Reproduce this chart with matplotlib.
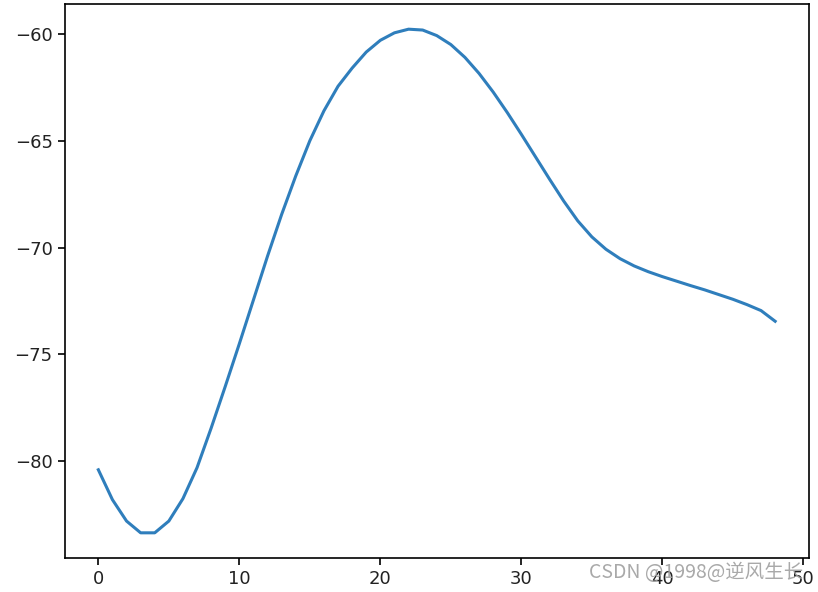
import numpy as np
import matplotlib
matplotlib.use("Agg")
import matplotlib.pyplot as plt

# values, one per step 0..48
steps = list(range(49))
values = [
    -80.4, -81.8, -82.8, -83.35, -83.35, -82.8, -81.75, -80.3, -78.45, -76.5,
    -74.5, -72.45, -70.4, -68.45, -66.65, -65.0, -63.6, -62.45, -61.6, -60.85,
    -60.3, -59.95, -59.78, -59.82, -60.08, -60.5, -61.1, -61.85, -62.72, -63.68,
    -64.7, -65.75, -66.8, -67.82, -68.75, -69.5, -70.08, -70.52, -70.86, -71.13,
    -71.36, -71.57, -71.78, -71.98, -72.2, -72.42, -72.67, -72.95, -73.45,
]
watermark = "CSDN @1998@逆风生长"

fig = plt.figure(figsize=(8.18, 5.92), dpi=100)
ax = fig.add_axes([64.5 / 818, 1 - 558 / 592, (809 - 64.5) / 818, (558 - 4) / 592])

ax.plot(steps, values, color="#2f7ebc", lw=2.2)

ax.tick_params(labelsize=13, length=5, width=1.2, labelcolor="#222222")
for s in ax.spines.values():
    s.set_linewidth(1.2)

fig.text(803 / 818, 1 - 573 / 592, watermark, ha="right", va="center",
         fontsize=14, color="#a0a0a0", alpha=0.9,
         family=["Noto Sans CJK SC", "DejaVu Sans"])

fig.savefig("out.png", dpi=100)
